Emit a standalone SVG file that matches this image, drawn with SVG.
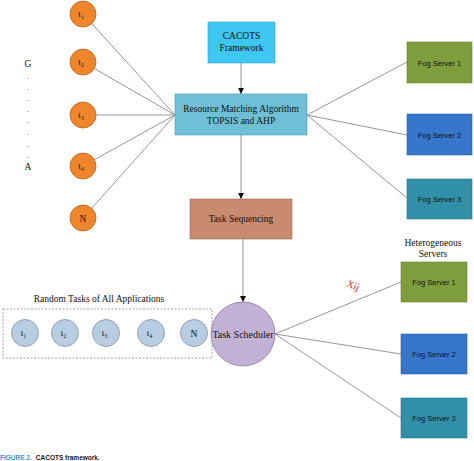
<svg xmlns="http://www.w3.org/2000/svg" width="474" height="461" viewBox="0 0 474 461">
<style>
.serif{font-family:"Liberation Serif","Times New Roman",serif;fill:#111}
.sans{font-family:"Liberation Sans",Arial,sans-serif;fill:#111}
.conn{stroke:#8a8a8a;stroke-width:0.9;fill:none}
.orange{fill:#f0862c;stroke:#b8621c;stroke-width:0.8}
.task{fill:#b9cde2;stroke:#7d90a8;stroke-width:0.8}
.fog1{fill:#7f9d3d;stroke:#6a8530;stroke-width:0.6}
.fog2{fill:#3676cb;stroke:#2b62ab;stroke-width:0.6}
.fog3{fill:#3190a8;stroke:#27768b;stroke-width:0.6}
</style>
<defs>
<marker id="arr" viewBox="0 0 10 10" refX="10" refY="5" markerWidth="6" markerHeight="6" markerUnits="userSpaceOnUse" orient="auto">
<path d="M0,0 L10,5 L0,10 z" fill="#111"/>
</marker>
</defs>
<rect width="474" height="461" fill="#fff"/>
<g id="connectors">
<line class="conn" x1="83" y1="14" x2="175" y2="115"/>
<line class="conn" x1="83" y1="62" x2="175" y2="115"/>
<line class="conn" x1="83" y1="115" x2="175" y2="115"/>
<line class="conn" x1="83" y1="166" x2="175" y2="115"/>
<line class="conn" x1="83" y1="218" x2="175" y2="115"/>
<line class="conn" x1="307" y1="115" x2="407" y2="62"/>
<line class="conn" x1="307" y1="115" x2="407" y2="135"/>
<line class="conn" x1="307" y1="115" x2="407" y2="198"/>
<line class="conn" x1="241" y1="63" x2="241" y2="94" marker-end="url(#arr)"/>
<line class="conn" x1="241" y1="135" x2="241" y2="199" marker-end="url(#arr)"/>
<line class="conn" x1="243" y1="239" x2="243" y2="302" marker-end="url(#arr)"/>
<line class="conn" x1="275" y1="334" x2="401" y2="282"/>
<line class="conn" x1="275" y1="334" x2="401" y2="354"/>
<line class="conn" x1="275" y1="334" x2="401" y2="418"/>
</g>
<g id="t1"><circle class="orange" cx="83" cy="14" r="13"/><text class="serif" x="81" y="17" font-size="9" text-anchor="middle">t<tspan font-size="5.5" dy="2">1</tspan></text></g>
<g id="t2"><circle class="orange" cx="83" cy="62" r="13"/><text class="serif" x="81" y="65" font-size="9" text-anchor="middle">t<tspan font-size="5.5" dy="2">2</tspan></text></g>
<g id="t3"><circle class="orange" cx="83" cy="115" r="13"/><text class="serif" x="81" y="118" font-size="9" text-anchor="middle">t<tspan font-size="5.5" dy="2">3</tspan></text></g>
<g id="t4"><circle class="orange" cx="83" cy="166" r="13"/><text class="serif" x="81" y="169" font-size="9" text-anchor="middle">t<tspan font-size="5.5" dy="2">4</tspan></text></g>
<g id="tN"><circle class="orange" cx="83" cy="218" r="13"/><text class="serif" x="83" y="221.5" font-size="9.5" text-anchor="middle">N</text></g>
<g id="ga-label">
<text class="serif" x="28" y="67" font-size="9.5" text-anchor="middle">G</text>
<text class="serif" x="28" y="79" font-size="7" text-anchor="middle">.</text>
<text class="serif" x="28" y="90" font-size="7" text-anchor="middle">.</text>
<text class="serif" x="28" y="101" font-size="7" text-anchor="middle">.</text>
<text class="serif" x="28" y="112" font-size="7" text-anchor="middle">.</text>
<text class="serif" x="28" y="123" font-size="7" text-anchor="middle">.</text>
<text class="serif" x="28" y="135" font-size="7" text-anchor="middle">.</text>
<text class="serif" x="28" y="147" font-size="7" text-anchor="middle">.</text>
<text class="serif" x="28" y="158" font-size="7" text-anchor="middle">.</text>
<text class="serif" x="28" y="170" font-size="9.5" text-anchor="middle">A</text>
</g>
<g id="cacots"><rect x="208" y="22" width="67" height="41" fill="#3ec7f2" stroke="#2fa0c8" stroke-width="0.6"/><text class="serif" x="241.5" y="39" font-size="9.5" text-anchor="middle">CACOTS</text><text class="serif" x="241.5" y="51" font-size="9.5" text-anchor="middle">Framework</text></g>
<g id="resource"><rect x="175" y="94" width="132" height="41" fill="#6fc0d7" stroke="#4f98ad" stroke-width="0.6"/><text class="serif" x="241" y="112" font-size="9.5" text-anchor="middle">Resource Matching Algorithm</text><text class="serif" x="241" y="124" font-size="9.5" text-anchor="middle">TOPSIS and AHP</text></g>
<g id="sequencing"><rect x="190" y="199" width="102" height="40" fill="#c98a72" stroke="#9f6650" stroke-width="0.6"/><text class="serif" x="241" y="222" font-size="9.5" text-anchor="middle">Task Sequencing</text></g>
<g id="fogA1"><rect class="fog1" x="407" y="42" width="65" height="41"/><text class="sans" x="439.5" y="65.5" font-size="7.5" text-anchor="middle">Fog Server 1</text></g>
<g id="fogA2"><rect class="fog2" x="407" y="114" width="65" height="41"/><text class="sans" x="439.5" y="137.5" font-size="7.5" text-anchor="middle">Fog Server 2</text></g>
<g id="fogA3"><rect class="fog3" x="407" y="179" width="65" height="40"/><text class="sans" x="439.5" y="201.5" font-size="7.5" text-anchor="middle">Fog Server 3</text></g>
<g id="random-tasks">
<rect x="3" y="309" width="209" height="49" fill="none" stroke="#8a8a8a" stroke-width="0.8" stroke-dasharray="2,1.5"/>
<text class="serif" x="99" y="302" font-size="9.5" text-anchor="middle">Random Tasks of All Applications</text>
</g>
<g id="r1"><circle class="task" cx="25" cy="333" r="13.5"/><text class="serif" x="23.5" y="336" font-size="9" text-anchor="middle">t<tspan font-size="5.5" dy="2">1</tspan></text></g>
<g id="r2"><circle class="task" cx="65" cy="333" r="13.5"/><text class="serif" x="63.5" y="336" font-size="9" text-anchor="middle">t<tspan font-size="5.5" dy="2">2</tspan></text></g>
<g id="r3"><circle class="task" cx="106" cy="333" r="13.5"/><text class="serif" x="104.5" y="336" font-size="9" text-anchor="middle">t<tspan font-size="5.5" dy="2">3</tspan></text></g>
<g id="r4"><circle class="task" cx="151" cy="333" r="13.5"/><text class="serif" x="149.5" y="336" font-size="9" text-anchor="middle">t<tspan font-size="5.5" dy="2">4</tspan></text></g>
<g id="rN"><circle class="task" cx="194" cy="333" r="13.5"/><text class="serif" x="194" y="336.5" font-size="9.5" text-anchor="middle">N</text></g>
<g id="scheduler"><circle cx="243" cy="334" r="32" fill="#c3b1d5" stroke="#8a7a9c" stroke-width="0.8"/><text class="serif" x="243" y="337.5" font-size="10" text-anchor="middle">Task Scheduler</text></g>
<g id="xij"><text x="346" y="286" transform="rotate(22 346 286)" font-family="Liberation Serif, Times New Roman, serif" font-size="10" fill="#e0151c">Xij</text></g>
<g id="hetero"><text class="serif" x="433" y="246" font-size="9.5" text-anchor="middle">Heterogeneous</text><text class="serif" x="433" y="257" font-size="9.5" text-anchor="middle">Servers</text></g>
<g id="fogB1"><rect class="fog1" x="401" y="262" width="66" height="40"/><text class="sans" x="434" y="284.5" font-size="7.5" text-anchor="middle">Fog Server 1</text></g>
<g id="fogB2"><rect class="fog2" x="401" y="334" width="66" height="40"/><text class="sans" x="434" y="356.5" font-size="7.5" text-anchor="middle">Fog Server 2</text></g>
<g id="fogB3"><rect class="fog3" x="401" y="398" width="66" height="40"/><text class="sans" x="434" y="420.5" font-size="7.5" text-anchor="middle">Fog Server 3</text></g>
<g id="caption"><text x="0" y="460" font-family="Liberation Sans, Arial, sans-serif" font-size="6.5" font-weight="bold"><tspan fill="#3d93d3">FIGURE 2.</tspan><tspan fill="#222" dx="4">CACOTS framework.</tspan></text></g>
</svg>
